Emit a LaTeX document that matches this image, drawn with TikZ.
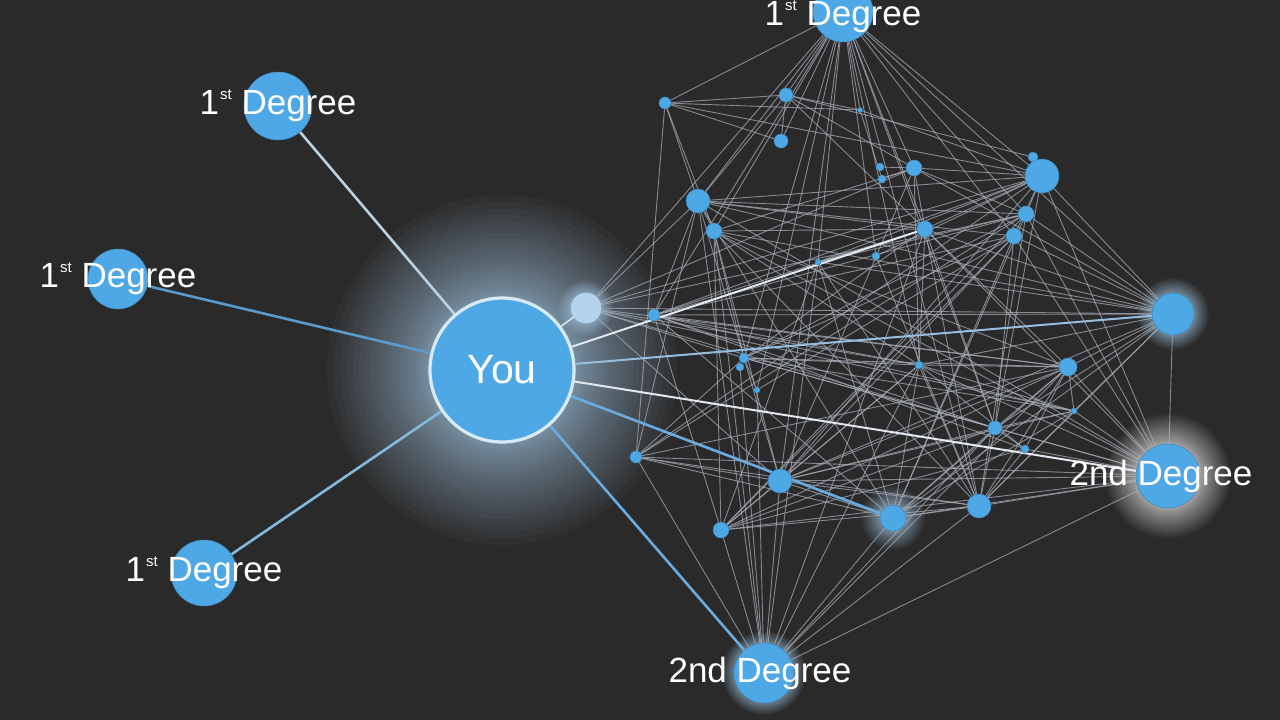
\documentclass[tikz,border=0pt]{standalone}
\usepackage{fontspec}
\setmainfont{Liberation Sans}
\usetikzlibrary{positioning}
\definecolor{bgdark}{RGB}{42,42,42}
\definecolor{dotblue}{RGB}{78,168,230}
\definecolor{paleblue}{RGB}{180,212,238}
\definecolor{meshgray}{RGB}{170,175,185}
\definecolor{hazeblue}{RGB}{175,212,240}
\definecolor{ringwhite}{RGB}{215,234,245}
\definecolor{linkgrey}{RGB}{185,210,225}
\definecolor{linkdeep}{RGB}{90,155,205}
\definecolor{linksoft}{RGB}{130,185,220}
\definecolor{linkblue}{RGB}{105,172,225}
\definecolor{linkhub}{RGB}{150,190,225}
\definecolor{linkwhite}{RGB}{225,232,240}
\pgfdeclarelayer{glowlayer}
\pgfdeclarelayer{meshlayer}
\pgfsetlayers{glowlayer,meshlayer,main}
% glow: node, inner radius, outer radius, colour
\newcommand\haze[4]{\foreach \k in {1,...,30}{\fill[#4,opacity=0.04] (#1) circle ({#2+(#3-#2)*(\k/30)*(\k/30)});}}
\newcommand\ordsup[1]{\kern1pt\raisebox{.42em}{\fontsize{15}{15}\selectfont #1}}

\begin{document}
\begin{tikzpicture}[x=1pt,y=-1pt,
  netdot/.style={circle,fill=dotblue,draw=dotblue!80!black,line width=0.5pt,inner sep=0pt,minimum size=#1},
  degtext/.style={text=white,font=\fontsize{35}{38}\selectfont},
  mesh/.style={draw=meshgray,line width=0.9pt,opacity=0.72},
  spoke/.style={line width=2.6pt,draw=#1}]
  \useasboundingbox (0,0) rectangle (1280,720);
  % people
  \node[netdot=144pt,draw=ringwhite,line width=3.2pt,text=white,font=\fontsize{41}{44}\selectfont] (you) at (502,370) {You};
  \node[netdot=68pt,label={[degtext]center:1\ordsup{st} Degree}] (d1a) at (278,106) {};
  \node[netdot=60pt,label={[degtext]center:1\ordsup{st} Degree}] (d1b) at (118,279) {};
  \node[netdot=66pt,label={[degtext]center:1\ordsup{st} Degree}] (d1c) at (204,573) {};
  \node[netdot=60pt,label={[degtext,yshift=-5pt]center:1\ordsup{st} Degree}] (d1t) at (843,12) {};
  \node[netdot=64pt,label={[degtext,xshift=-7pt]center:2nd Degree}] (d2r) at (1168,476) {};
  \node[netdot=60pt,label={[degtext,xshift=-4pt]center:2nd Degree}] (d2b) at (764,673) {};
  \node[netdot=42pt] (hubR) at (1173,314) {};
  \node[netdot=30pt,fill=paleblue,draw=paleblue] (pale) at (586,308) {};
  \foreach \name/\px/\py/\d in {n1/665/103/12,n2/786/95/14,n3/860/110/5,n4/781/141/14,
    n5/880/167/8,n6/882/179/8,n7/914/168/16,n8/1033/157/10,n9/1042/176/34,n10/698/201/24,
    n11/714/231/16,n12/1026/214/16,n13/925/229/16,n14/1014/236/16,n15/876/256/8,n16/818/262/6,
    n17/654/315/12,n18/744/358/10,n19/740/367/8,n20/757/390/6,n21/919/365/8,n22/1068/367/18,
    n23/995/428/14,n24/1074/411/6,n25/1025/449/8,n26/636/457/12,n27/780/481/24,n28/893/518/26,
    n29/979/506/24,n30/721/530/16}
    \node[netdot=\d pt] (\name) at (\px,\py) {};

  \begin{pgfonlayer}{glowlayer}
    \fill[bgdark] (0,0) rectangle (1280,720);
    \haze{you}{70}{175}{hazeblue}
    \haze{d2r}{30}{62}{white}
    \haze{hubR}{20}{36}{hazeblue}
    \haze{n28}{12}{32}{hazeblue}
    \haze{d2b}{28}{42}{hazeblue}
    \haze{pale}{14}{28}{hazeblue}
  \end{pgfonlayer}

  \begin{pgfonlayer}{meshlayer}
    \foreach \a/\bs in {
      d1t/{n1,n2,n3,n4,n10,n11,pale,n17,n16,n15,n13,n7,n9,n12,n14,n21,n27,n20,n29,n23,n18,hubR},
      hubR/{n9,n12,n14,n13,n7,n10,n11,n22,n23,n21,n27,n28,n29,d2r,pale,n17,n16,n24},
      d2r/{n9,n12,n14,n22,n23,n24,n25,n21,n13,n10,n11,n27,n28,n29,n30,d2b,n26,n18},
      d2b/{n26,n30,n27,n28,n29,n20,n19,n11,n10,n21,n23,n13,n16,n22},
      n1/{n2,n10,n11,n4,n26,n9,n3},
      n2/{n3,n4,n10,n13,n8,n7},
      n3/{n9,n6},
      n10/{n11,n9,n12,n14,n13,n27,n26,pale,n17,n28},
      n11/{n13,n22,n21,n27,n18,n30,n29},
      n9/{n8,n12,n14,n13,n7,n15,n16,pale,n17,n26,n27,n23},
      n7/{n5,n6,n13,n11,n12,n27,n21},
      n13/{n16,n17,n18,n22,n23,n21,n29},
      n12/{n16,n17,n18,n26,n30,n28,n29},
      n14/{n18,n20,n17,n27,n30,n28,n23},
      pale/{n7,n12,n22,n23,n18,n21,n24,n27},
      n17/{n22,n23,n21,n24,n25,n28},
      n26/{n27,n28,n29,n18,n22},
      n30/{n27,n29,n21,n22,n23,n25,n17,n16},
      n27/{n28,n29,n22,n23,n21,n24},
      n28/{n29,n22,n23,n21,n16,n24},
      n29/{n22,n23,n24,n25,n21,n16,n15},
      n18/{n19,n20,n21,n22,n23,n24},
      n21/{n22,n24,n25},
      n22/{n23,n24,n25},
      n23/{n24,n25}}
      \foreach \b in \bs \draw[mesh] (\a) -- (\b);
    % links out of you
    \draw[spoke=linkgrey] (you) -- (d1a);
    \draw[spoke=linkdeep] (you) -- (d1b);
    \draw[spoke=linksoft] (you) -- (d1c);
    \draw[spoke=linkblue] (you) -- (d2b);
    \draw[spoke=linkblue] (you) -- (n28);
    \draw[spoke=linkhub,line width=2pt] (you) -- (hubR);
    \draw[spoke=linkwhite,line width=2pt] (you) -- (d2r);
    \draw[spoke=linkwhite,line width=2pt] (you) -- (n13);
    \draw[spoke=linkwhite,line width=1.5pt] (you) -- (pale);
  \end{pgfonlayer}
\end{tikzpicture}
\end{document}
